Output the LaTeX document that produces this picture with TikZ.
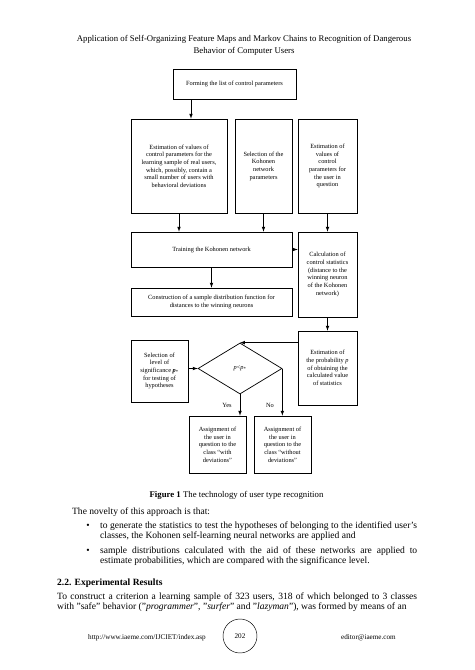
\documentclass[tikz,border=0pt]{standalone}
\usepackage{fontspec}
\setmainfont{Liberation Serif}
\usetikzlibrary{calc}
\usetikzlibrary{arrows,shapes.geometric}

\begin{document}
\begin{tikzpicture}[x=1.256pt,y=-1.256pt,
   blok/.style={draw,line width=0.9pt,align=center,inner sep=1pt,
     font=\fontsize{8}{9.6}\selectfont},
   sz/.style 2 args={minimum width=#1*1.256pt,minimum height=#2*1.256pt},
   arr/.style={-latex,line width=1.1pt},
   lbl/.style={inner sep=0pt,font=\fontsize{8}{9.6}\selectfont},
   txt/.style={inner sep=0pt,font=\fontsize{12}{13.8}\selectfont},
   par/.style={txt,align=justify,anchor=base west,text width=#1*1.256pt}]
\useasboundingbox (0,0) rectangle (474,670);
% page header
\node[txt,anchor=base,font=\fontsize{11}{13}\selectfont] (head1) at (244,41.5) {Application of Self-Organizing Feature Maps and Markov Chains to Recognition of Dangerous};
\node[txt,anchor=base,font=\fontsize{11}{13}\selectfont] (head2) at (244,53.5) {Behavior of Computer Users};

% flow chart
\node[blok,sz={123}{30}] (form) at (234.5,84) {Forming the list of control parameters};
\node[blok,sz={96}{94}] (learn) at (179,166) {Estimation of values of\\control parameters for the\\learning sample of real users,\\which, possibly, contain a\\small number of users with\\behavioral deviations};
\node[blok,sz={57}{94}] (koh) at (263.5,166) {Selection of the\\Kohonen\\network\\parameters};
\node[blok,sz={59}{94}] (user) at (327.5,166) {Estimation of\\values of\\control\\parameters for\\the user in\\question};
\node[blok,sz={161}{35}] (train) at (211.5,249.5) {Training the Kohonen network};
\node[blok,sz={59}{85}] (calc) at (327.5,274.5) {Calculation of\\control statistics\\(distance to the\\winning neuron\\of the Kohonen\\network)};
\node[blok,sz={161}{28}] (constr) at (211.5,302) {Construction of a sample distribution function for\\distances to the winning neurons};
\node[blok,sz={59}{74}] (estim) at (327.5,368) {Estimation of\\the probability \textit{p}\\of obtaining the\\calculated value\\of statistics};
\node[blok,sz={57}{62}] (signif) at (159.5,371) {Selection of\\level of\\significance \textit{\textbf{p}}\textsubscript{*}\\for testing of\\hypotheses};
\node[blok,diamond,inner sep=0pt,sz={84}{51}] (dia) at (240,368.5) {\textit{p}<\textit{p}\textsubscript{*}};
\node[blok,sz={57}{57}] (yes) at (217.5,444.5) {Assignment of\\the user in\\question to the\\class “with\\deviations”};
\node[blok,sz={57}{57}] (no) at (282.5,444.5) {Assignment of\\the user in\\question to the\\class “without\\deviations”};

\draw[arr] ($(form.south)+(-43.5,0)$) -- ($(form.south |- learn.north)+(-43.5,0)$);
\draw[arr] (learn.south) -- (learn.south |- train.north);
\draw[arr] (koh.south) -- (koh.south |- train.north);
\draw[arr] (user) -- (calc);
\draw[arr] (train.east) -- (train.east -| calc.west);
\draw[arr] (train) -- (constr);
\draw[arr] (calc) -- (estim);
\draw[arr] (dia.north -| estim.west) -- (dia.north);
\draw[arr] (signif.east |- dia.west) -- (dia.west);
\draw[arr] (dia.south) -- (dia.south |- yes.north);
\draw[arr] (dia.east) -- (dia.east |- no.north);
\node[lbl] (lyes) at (227,405) {Yes};
\node[lbl] (lno) at (270,405) {No};

\node[txt,anchor=base,font=\fontsize{11}{13}\selectfont] (capt) at (236.5,497) {\textbf{Figure 1} The technology of user type recognition};

% body text
\node[txt,anchor=base west] (novel) at (72,514) {The novelty of this approach is that:};
\node[txt,anchor=base] (bul1) at (88,528) {\textbullet};
\node[par=317] (item1) at (100,528) {to generate the statistics to test the hypotheses of belonging to the identified user’s\linebreak classes, the Kohonen self-learning neural networks are applied and};
\node[txt,anchor=base] (bul2) at (88,553) {\textbullet};
\node[par=317] (item2) at (100,553) {sample distributions calculated with the aid of these networks are applied to\linebreak estimate probabilities, which are compared with the significance level.};
\node[txt,anchor=base west,font=\fontsize{12}{13.8}\selectfont\bfseries] (sect) at (57,585) {2.2. Experimental Results};
\node[par=360] (para) at (57,599) {\parfillskip=0pt To construct a criterion a learning sample of 323 users, 318 of which belonged to 3 classes\linebreak with "safe" behavior ("\textit{programmer}", "\textit{surfer}" and "\textit{lazyman}"), was formed by means of an};

% footer
\node[txt,anchor=base,font=\fontsize{9}{11}\selectfont] (url) at (147,639) {http://www.iaeme.com/IJCIET/index.asp};
\node[draw,circle,line width=0.6pt,minimum size=34*1.256pt,inner sep=0pt,font=\fontsize{9}{11}\selectfont] (pg) at (240,636) {202};
\node[txt,anchor=base,font=\fontsize{9}{11}\selectfont] (mail) at (368.5,639) {editor@iaeme.com};
\end{tikzpicture}
\end{document}
